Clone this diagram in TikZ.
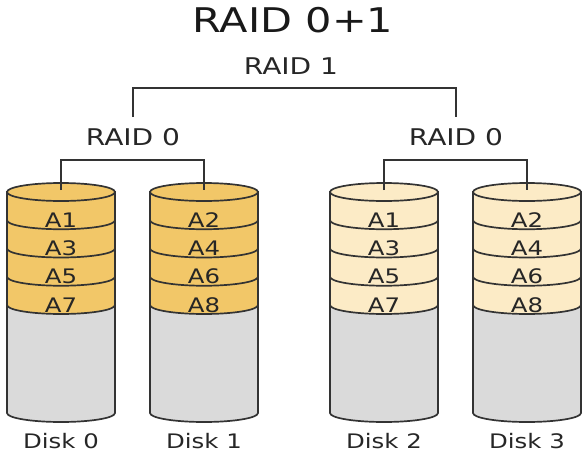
\documentclass[tikz,border=0pt]{standalone}
\usepackage{fontspec}
\setmainfont[FakeStretch=1.22]{DejaVu Sans}
\definecolor{gold}{HTML}{F2C768}
\definecolor{cream}{HTML}{FCEBC6}
\definecolor{platter}{HTML}{DADADA}
\definecolor{rim}{HTML}{333333}
\tikzset{
	link/.style={draw=rim,line width=1.4pt},
	disk/.style={draw=rim,line width=1.7pt},
	small/.style={font=\fontsize{20}{24}\selectfont,text=black!85}
}
\begin{document}
\begin{tikzpicture}[x=1pt,y=1pt]
	\useasboundingbox (0,0) rectangle (587,-461);
	\node [font=\fontsize{34}{40}\selectfont,text=black!90] at (293,-20) (title) {RAID 0+1};
	\node [font=\fontsize{23}{28}\selectfont,text=black!85] at (291,-66) (raid1) {RAID 1};
	\node [font=\fontsize{23}{28}\selectfont,text=black!85] at (133,-137) (raid0l) {RAID 0};
	\node [font=\fontsize{23}{28}\selectfont,text=black!85] at (456,-137) (raid0r) {RAID 0};
	\foreach \px/\dn/\fc/\la/\lb/\lc/\ld in {61/0/gold/1/3/5/7,204/1/gold/2/4/6/8,384/2/cream/1/3/5/7,527/3/cream/2/4/6/8}{
		\begin{scope}[shift={(\px,0)}]
			\filldraw [disk,fill=platter] (-54,-305) -- (-54,-413) arc [start angle=180,end angle=360,x radius=54pt,y radius=9pt] -- (54,-305) -- cycle;
			\filldraw [disk,fill=\fc] (-54,-192) -- (-54,-305) arc [start angle=180,end angle=360,x radius=54pt,y radius=9pt] -- (54,-192) -- cycle;
			\foreach \yy in {220.25,248.5,276.75}{
				\draw [disk] (-54,-\yy) arc [start angle=180,end angle=360,x radius=54pt,y radius=9pt];
			}
			\filldraw [disk,fill=\fc] (0,-192) ellipse [x radius=54pt,y radius=9pt];
			\coordinate (top\dn) at (0,-190);
			\node [small] at (0,-220) (a\dn-1) {A\la};
			\node [small] at (0,-248.25) (a\dn-2) {A\lb};
			\node [small] at (0,-276.5) (a\dn-3) {A\lc};
			\node [small] at (0,-304.75) (a\dn-4) {A\ld};
			\node [small] at (0,-441) (d\dn) {Disk \dn};
		\end{scope}
	}
	\coordinate (j0) at (133,-160); \coordinate (j1) at (456,-160);
	\coordinate (s0) at (133,-117); \coordinate (s1) at (456,-117);
	\coordinate (j) at (294,-88);
	\draw [link] (top0) |- (j0) -| (top1) (top2) |- (j1) -| (top3);
	\draw [link] (s0) |- (j) -| (s1);
\end{tikzpicture}
\end{document}
